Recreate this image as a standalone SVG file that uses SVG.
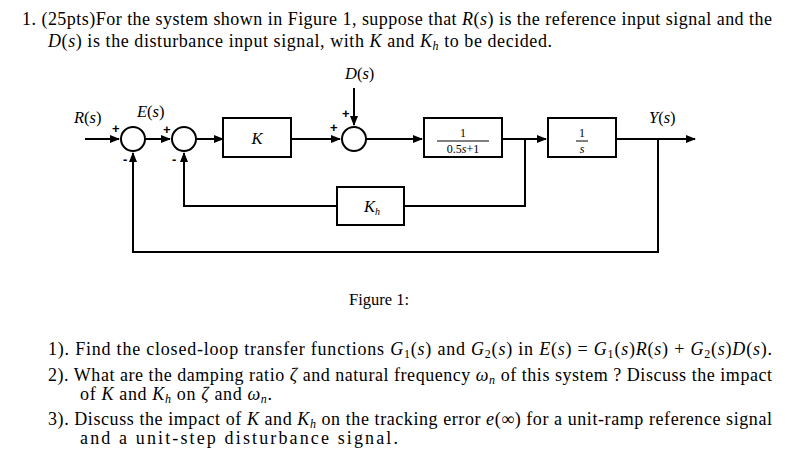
<svg xmlns="http://www.w3.org/2000/svg" width="788" height="463" viewBox="0 0 788 463">
<style>
text{font-family:"Liberation Serif","DejaVu Serif",serif;fill:#000}
.t{font-size:16.5px}
.q{font-size:18px}
.m{font-style:italic}
.b{fill:#fff;stroke:#000;stroke-width:2}
.l{fill:none;stroke:#000;stroke-width:2}
.p{font-family:"Liberation Sans",sans-serif;font-weight:bold;font-size:13px}
</style>
<defs><marker id="a" markerWidth="10" markerHeight="8" refX="9" refY="4" orient="auto" markerUnits="userSpaceOnUse"><path d="M0,0L10,4L0,8z"/></marker></defs>
<rect width="788" height="463" fill="#fff"/>
<g id="header" class="q">
<text x="22" y="25" textLength="750" lengthAdjust="spacing">1.  (25pts)For the system shown in Figure 1, suppose that <tspan class="m">R</tspan>(<tspan class="m">s</tspan>) is the reference input signal and the</text>
<text x="48" y="47" textLength="504" lengthAdjust="spacing"><tspan class="m">D</tspan>(<tspan class="m">s</tspan>) is the disturbance input signal, with <tspan class="m">K</tspan> and <tspan class="m">K<tspan font-size="12" dy="3">h</tspan></tspan><tspan dy="-3"> to be decided.</tspan></text>
</g>
<g id="connectors">
<path class="l" d="M85,139H119" marker-end="url(#a)"/>
<path class="l" d="M145,139H170" marker-end="url(#a)"/>
<path class="l" d="M196,139H223" marker-end="url(#a)"/>
<path class="l" d="M291,139H340" marker-end="url(#a)"/>
<path class="l" d="M354,88V125" marker-end="url(#a)"/>
<path class="l" d="M366,139H422" marker-end="url(#a)"/>
<path class="l" d="M502,139H546" marker-end="url(#a)"/>
<path class="l" d="M616,139H695" marker-end="url(#a)"/>
<path class="l" d="M525,139V206H404"/>
<path class="l" d="M337,206H184V153" marker-end="url(#a)"/>
<path class="l" d="M658,139V252H133V153" marker-end="url(#a)"/>
</g>
<g id="R"><text class="t" x="74" y="123"><tspan class="m">R</tspan>(<tspan class="m">s</tspan>)</text></g>
<g id="E"><text class="t" x="137" y="117"><tspan class="m">E</tspan>(<tspan class="m">s</tspan>)</text></g>
<g id="D"><text class="t" x="345" y="79"><tspan class="m">D</tspan>(<tspan class="m">s</tspan>)</text></g>
<g id="Y"><text class="t" x="649" y="123"><tspan class="m">Y</tspan>(<tspan class="m">s</tspan>)</text></g>
<g id="sum1"><circle class="b" cx="133" cy="139" r="12"/><text class="p" x="112" y="133">+</text><text class="p" x="123" y="164">-</text></g>
<g id="sum2"><circle class="b" cx="184" cy="139" r="12"/><text class="p" x="163" y="134">+</text><text class="p" x="172" y="164">-</text></g>
<g id="sum3"><circle class="b" cx="354" cy="139" r="12"/><text class="p" x="330" y="132">+</text><text class="p" x="342" y="118">+</text></g>
<g id="K"><rect class="b" x="223" y="118" width="68" height="39"/><text class="t m" x="257" y="144" text-anchor="middle">K</text></g>
<g id="G1"><rect class="b" x="424" y="118" width="78" height="39"/><text x="463" y="137" font-size="12" text-anchor="middle">1</text><path d="M437,141H489" stroke="#000"/><text x="463" y="153" font-size="12" text-anchor="middle">0.5<tspan font-style="italic">s</tspan>+1</text></g>
<g id="G2"><rect class="b" x="548" y="118" width="68" height="39"/><text x="582" y="137" font-size="12" text-anchor="middle">1</text><path d="M576,141H588" stroke="#000"/><text x="582" y="153" font-size="12" font-style="italic" text-anchor="middle">s</text></g>
<g id="Kh"><rect class="b" x="337" y="187" width="67" height="38"/><text class="t m" x="364" y="212">K<tspan font-size="10" dy="3">h</tspan></text></g>
<g id="caption"><text class="t" x="349" y="305">Figure 1:</text></g>
<g id="questions" class="q">
<text x="48" y="355" textLength="724" lengthAdjust="spacing">1).  Find the closed-loop transfer functions <tspan class="m">G</tspan><tspan font-size="12" dy="3">1</tspan><tspan dy="-3">(</tspan><tspan class="m">s</tspan>) and <tspan class="m">G</tspan><tspan font-size="12" dy="3">2</tspan><tspan dy="-3">(</tspan><tspan class="m">s</tspan>) in <tspan class="m">E</tspan>(<tspan class="m">s</tspan>) = <tspan class="m">G</tspan><tspan font-size="12" dy="3">1</tspan><tspan dy="-3">(</tspan><tspan class="m">s</tspan>)<tspan class="m">R</tspan>(<tspan class="m">s</tspan>) + <tspan class="m">G</tspan><tspan font-size="12" dy="3">2</tspan><tspan dy="-3">(</tspan><tspan class="m">s</tspan>)<tspan class="m">D</tspan>(<tspan class="m">s</tspan>).</text>
<text x="48" y="381" textLength="724" lengthAdjust="spacing">2).  What are the damping ratio <tspan class="m">ζ</tspan> and natural frequency <tspan class="m">ω<tspan font-size="12" dy="3">n</tspan></tspan><tspan dy="-3"> of this system ? Discuss the impact</tspan></text>
<text x="80" y="400" textLength="192" lengthAdjust="spacing">of <tspan class="m">K</tspan> and <tspan class="m">K<tspan font-size="12" dy="3">h</tspan></tspan><tspan dy="-3"> on </tspan><tspan class="m">ζ</tspan> and <tspan class="m">ω<tspan font-size="12" dy="3">n</tspan></tspan><tspan dy="-3">.</tspan></text>
<text x="48" y="425" textLength="724" lengthAdjust="spacing">3).  Discuss the impact of <tspan class="m">K</tspan> and <tspan class="m">K<tspan font-size="12" dy="3">h</tspan></tspan><tspan dy="-3"> on the tracking error </tspan><tspan class="m">e</tspan>(∞) for a unit-ramp reference signal</text>
<text x="80" y="444" textLength="318" lengthAdjust="spacing">and a unit-step disturbance signal.</text>
</g>
</svg>
